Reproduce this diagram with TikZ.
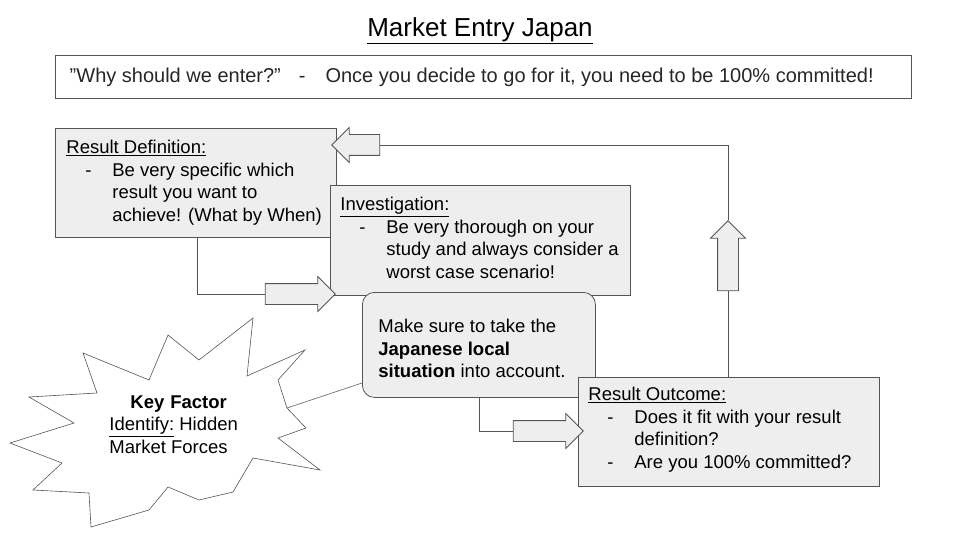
\documentclass[tikz,border=0pt]{standalone}
\usepackage{fontspec}
\setmainfont{Liberation Sans}
\usetikzlibrary{shapes.arrows,positioning}
\definecolor{boxgray}{HTML}{EEEEEE}
\definecolor{linegray}{HTML}{555555}
\tikzstyle{txtbox}=[draw=linegray, fill=boxgray, anchor=north west, align=left, inner sep=0pt, text=black!90]
\tikzstyle{blockarrow}=[single arrow, draw=linegray, fill=boxgray, inner sep=0pt, inner ysep=10pt, minimum height=70pt, single arrow head extend=7pt]
\newcommand{\dashline}[1]{\hspace*{19pt}\makebox[27pt][l]{-}#1}
\newcommand{\contline}[1]{\hspace*{46pt}#1}
\begin{document}
\begin{tikzpicture}[x=1pt,y=-1pt,line width=0.8pt,font=\fontsize{18.5}{22.5}\selectfont]
\useasboundingbox (0,0) rectangle (960,540);
\node (title) at (480,31) {\fontsize{26}{30}\selectfont\underline{Market Entry Japan}};
\draw[linegray] (55,55) rectangle (911,98);
\node[anchor=west,text=black!85,font=\fontsize{20}{24}\selectfont] (quote) at (66,77) {"Why should we enter?”\hspace{18pt}-\hspace{20pt}Once you decide to go for it, you need to be 100\% committed!};

% boxes
\node[txtbox, minimum width=281pt, minimum height=109pt] (rdef) at (55,128) {};
\node[anchor=north west, align=left, inner sep=0pt] (rdeftxt) at (66,140) {\underline{Result Definition:}\\ \dashline{Be very specific which}\\ \contline{result you want to}\\ \contline{achieve! (What by When)}};
\node[txtbox, minimum width=300pt, minimum height=110pt] (inv) at (330,185) {};
\node[anchor=north west, align=left, inner sep=0pt] (invtxt) at (340,197) {\underline{Investigation:}\\ \dashline{Be very thorough on your}\\ \contline{study and always consider a}\\ \contline{worst case scenario!}};
\node[txtbox, rounded corners=12pt, minimum width=233pt, minimum height=105pt] (local) at (362,292) {};
\node[anchor=north west, align=left, inner sep=0pt] (localtxt) at (378,319) {Make sure to take the\\ \textbf{Japanese local}\\ \textbf{situation} into account.};
\node[txtbox, minimum width=301pt, minimum height=109pt] (rout) at (578,377) {};
\node[anchor=north west, align=left, inner sep=0pt] (routtxt) at (588,387) {\underline{Result Outcome:}\\ \dashline{Does it fit with your result}\\ \contline{definition?}\\ \dashline{Are you 100\% committed?}};

% block arrows
\node[blockarrow] (arr1) at (295,294) {};
\node[blockarrow] (arr2) at (543,431) {};
\node[blockarrow, rotate=90] (arr3) at (728,261) {};
\node[blockarrow, rotate=180, minimum height=48pt] (arr4) at (361,145) {};
\coordinate (top) at (728,145);

\draw[linegray] (197,237) |- (arr1.tail);
\draw[linegray] (479,397) |- (arr2.tail);
\draw[linegray] (rout.north -| top) -- (arr3.tail);
\draw[linegray] (arr3.tip) -- (top) -- (arr4.tail);

% key factor burst
\draw[linegray, line width=0.6pt, fill=white] (253,318) -- (247,376) -- (305,350) -- (278,380) -- (287,408) -- (306,428) -- (278,438) -- (320,470) -- (253,458) -- (233,492) -- (199,500) -- (168,487) -- (149,510) -- (91,527) -- (89,493) -- (33,490) -- (62,463) -- (10,443) -- (74,423) -- (29,397) -- (97,393) -- (83,353) -- (149,380) -- (168,335) -- (199,360) -- cycle;
\coordinate (burst) at (287,408);
\draw[linegray, line width=0.6pt] (local.west |- 0,383) -- (burst);
\node[anchor=north west, align=left, inner sep=0pt] (key) at (109,395) {\hspace*{21pt}\textbf{Key\hspace{6pt}Factor}\\ \underline{Identify:} Hidden\\ Market Forces};
\end{tikzpicture}
\end{document}
